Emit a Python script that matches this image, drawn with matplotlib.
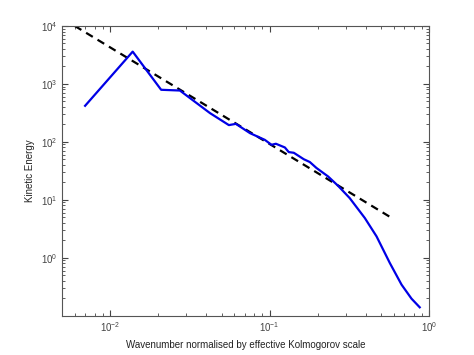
import matplotlib
matplotlib.use("Agg")
import matplotlib.pyplot as plt
from matplotlib.ticker import FixedLocator, LogFormatterSciNotation, LogLocator

# Blue spectrum (wavenumber, kinetic energy)
k_spec = [0.00697, 0.01386, 0.0209, 0.0274, 0.0423, 0.0556, 0.0615, 0.0754,
          0.0934, 0.1029, 0.1096, 0.1248, 0.132, 0.142, 0.164, 0.179, 0.197,
          0.233, 0.269, 0.318, 0.396, 0.469, 0.568, 0.673, 0.777, 0.875]
E_spec = [418, 3600, 790, 767, 313, 194, 204, 141,
          108, 88.7, 92.5, 79.8, 66.4, 64.6, 50, 44.7, 35.3,
          25.2, 17.4, 10.7, 4.83, 2.33, 0.81, 0.342, 0.196, 0.139]

# -5/3 reference line endpoints
k_ref = [0.006, 0.58]
E_ref = [1.0e4, 4.9]

yticks = [1, 10, 100, 1e3, 1e4]
xlabel = "Wavenumber normalised by effective Kolmogorov scale"
ylabel = "Kinetic Energy"

plt.rcParams['font.family'] = ['Liberation Sans', 'DejaVu Sans']
fig = plt.figure(figsize=(4.74, 3.55), dpi=100)
ax = fig.add_axes([0.131, 0.111, 0.774, 0.816])

ax.loglog(k_ref, E_ref, linestyle=(0, (3.5, 2.5)), color='black', linewidth=1.6)
ax.loglog(k_spec, E_spec, color='#0000e6', linewidth=1.6)

ax.set_xlim(0.005, 1)
ax.set_ylim(0.1, 1e4)
ax.yaxis.set_major_locator(FixedLocator(yticks))
ax.yaxis.set_major_formatter(LogFormatterSciNotation())
ax.yaxis.set_minor_locator(LogLocator(base=10, subs=range(2, 10), numticks=20))
ax.set_xlabel(xlabel, fontsize=7, color='#222222')
ax.set_ylabel(ylabel, fontsize=7, color='#222222')

ax.tick_params(which='both', direction='in', top=True, right=True, labelsize=7, colors='#444444')
ax.tick_params(which='major', length=4)
ax.tick_params(which='minor', length=2)
for s in ax.spines.values():
    s.set_color('#555555')
    s.set_linewidth(0.8)

fig.savefig("out.png", dpi=100)
